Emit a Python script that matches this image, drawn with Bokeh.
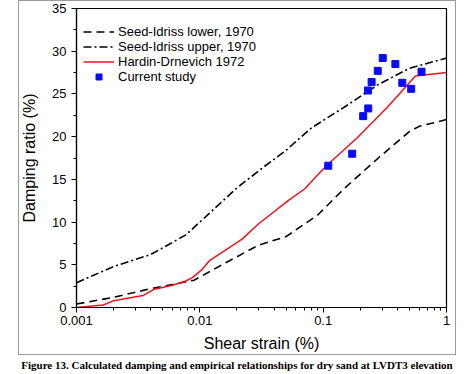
from bokeh.plotting import figure
from bokeh.models import Range1d, FixedTicker, Legend, LegendItem, Div, InlineStyleSheet
from bokeh.layouts import column
from bokeh.embed import file_html
from bokeh.resources import INLINE

# Seed-Idriss lower bound, 1970
lower_x = [0.001, 0.002, 0.004, 0.006, 0.009, 0.0165, 0.03, 0.05, 0.09, 0.15, 0.28, 0.5, 0.6, 1.0]
lower_y = [0.4, 1.2, 2.2, 2.7, 3.2, 5.3, 7.3, 8.3, 10.8, 14.0, 17.5, 20.6, 21.2, 22.0]

# Seed-Idriss upper bound, 1970
upper_x = [0.001, 0.002, 0.004, 0.0077, 0.01, 0.02, 0.03, 0.05, 0.08, 0.15, 0.28, 0.5, 1.0]
upper_y = [2.9, 4.8, 6.2, 8.5, 10.0, 14.0, 16.0, 18.4, 21.0, 23.5, 26.1, 28.0, 29.2]

# Hardin-Drnevich 1972
hd_x = [0.001, 0.00165, 0.002, 0.00346, 0.0042, 0.006, 0.0077, 0.0087, 0.0105, 0.012,
        0.022, 0.03, 0.052, 0.071, 0.097, 0.11, 0.19, 0.33, 0.56, 1.0]
hd_y = [0.0, 0.3, 0.8, 1.4, 2.1, 2.6, 3.1, 3.5, 4.5, 5.5,
        8.0, 9.8, 12.5, 13.9, 16.0, 16.8, 19.9, 23.4, 27.1, 27.5]

# Current study
cs_x = [0.110, 0.172, 0.211, 0.232, 0.231, 0.247, 0.277, 0.304, 0.385, 0.438, 0.517, 0.627]
cs_y = [16.6, 18.0, 22.4, 23.3, 25.4, 26.4, 27.7, 29.2, 28.5, 26.3, 25.6, 27.6]

x_ticks = [0.001, 0.01, 0.1, 1]
x_tick_labels = ["0.001", "0.01", "0.1", "1"]
y_ticks = [0, 5, 10, 15, 20, 25, 30, 35]

caption_text = "Figure 13. Calculated damping and empirical relationships for dry sand at LVDT3 elevation"

FONT = "Liberation Sans"

p = figure(width=438, height=355, x_axis_type="log",
           x_range=Range1d(0.001, 1), y_range=Range1d(0, 35),
           output_backend="svg", toolbar_location=None,
           min_border_left=55, min_border_right=10, min_border_top=8, min_border_bottom=48)
p.margin = (0, 0, 0, 18)
p.stylesheets = [InlineStyleSheet(css=":host { outline: 1.5px solid #9a9a9a; outline-offset: -1.5px; background: white; }")]
p.grid.visible = False
p.outline_line_color = "black"
p.outline_line_width = 1.2
p.background_fill_color = "white"
p.border_fill_color = None

minor_x = [m * d for d in [0.001, 0.01, 0.1] for m in range(2, 10)]
p.xaxis.ticker = FixedTicker(ticks=x_ticks, minor_ticks=minor_x)
p.xaxis.major_label_overrides = {t: l for t, l in zip(x_ticks, x_tick_labels)}
p.yaxis.ticker = FixedTicker(ticks=y_ticks, minor_ticks=[t + 2.5 for t in y_ticks[:-1]])

for ax in (p.xaxis, p.yaxis):
    ax.axis_line_color = "black"
    ax.axis_line_width = 1.2
    ax.major_tick_line_color = "black"
    ax.minor_tick_line_color = "black"
    ax.major_tick_out = 5
    ax.major_tick_in = 0
    ax.minor_tick_out = 3
    ax.minor_tick_in = 0
    ax.major_label_text_font = FONT
    ax.major_label_text_font_size = "13px"
    ax.major_label_text_color = "black"
    ax.axis_label_text_font = FONT
    ax.axis_label_text_font_size = "16px"
    ax.axis_label_text_font_style = "normal"
    ax.axis_label_text_color = "black"

p.xaxis.axis_label = "Shear strain (%)"
p.yaxis.axis_label = "Damping ratio (%)"
p.xaxis.major_label_standoff = 3
p.yaxis.major_label_standoff = 5
p.xaxis.axis_label_standoff = 7
p.yaxis.axis_label_standoff = 11

r_low = p.line(lower_x, lower_y, line_color="black", line_width=1.6, line_dash="8 5")
r_up = p.line(upper_x, upper_y, line_color="black", line_width=1.6, line_dash="8 3 2 3")
r_hd = p.line(hd_x, hd_y, line_color="#e8141c", line_width=1.5)
r_cs = p.scatter(cs_x, cs_y, marker="square", size=7, fill_color="#0a0aff", line_color="#0a0aff")

legend = Legend(items=[
    LegendItem(label="Seed-Idriss lower, 1970", renderers=[r_low]),
    LegendItem(label="Seed-Idriss upper, 1970", renderers=[r_up]),
    LegendItem(label="Hardin-Drnevich 1972", renderers=[r_hd]),
    LegendItem(label="Current study", renderers=[r_cs]),
], location="top_left")
legend.border_line_color = None
legend.background_fill_alpha = 0
legend.margin = 7
legend.padding = 7
legend.spacing = 0
legend.glyph_width = 31
legend.glyph_height = 15
legend.label_height = 15
legend.label_standoff = 4
legend.label_text_font = FONT
legend.label_text_font_size = "13px"
legend.label_text_color = "black"
legend.title = " "
legend.title_text_font_size = "1px"
legend.title_standoff = 8
p.add_layout(legend, "center")

caption = Div(text=caption_text, width=474, height=19, margin=(0, 0, 0, 0),
              styles={"font-family": "'Liberation Serif'", "font-weight": "bold",
                      "font-size": "11px", "line-height": "13px", "text-align": "center",
                      "white-space": "nowrap", "padding-top": "4px", "color": "black"})

layout = column(p, caption, spacing=0)
open("out.html", "w").write(file_html(layout, INLINE))
